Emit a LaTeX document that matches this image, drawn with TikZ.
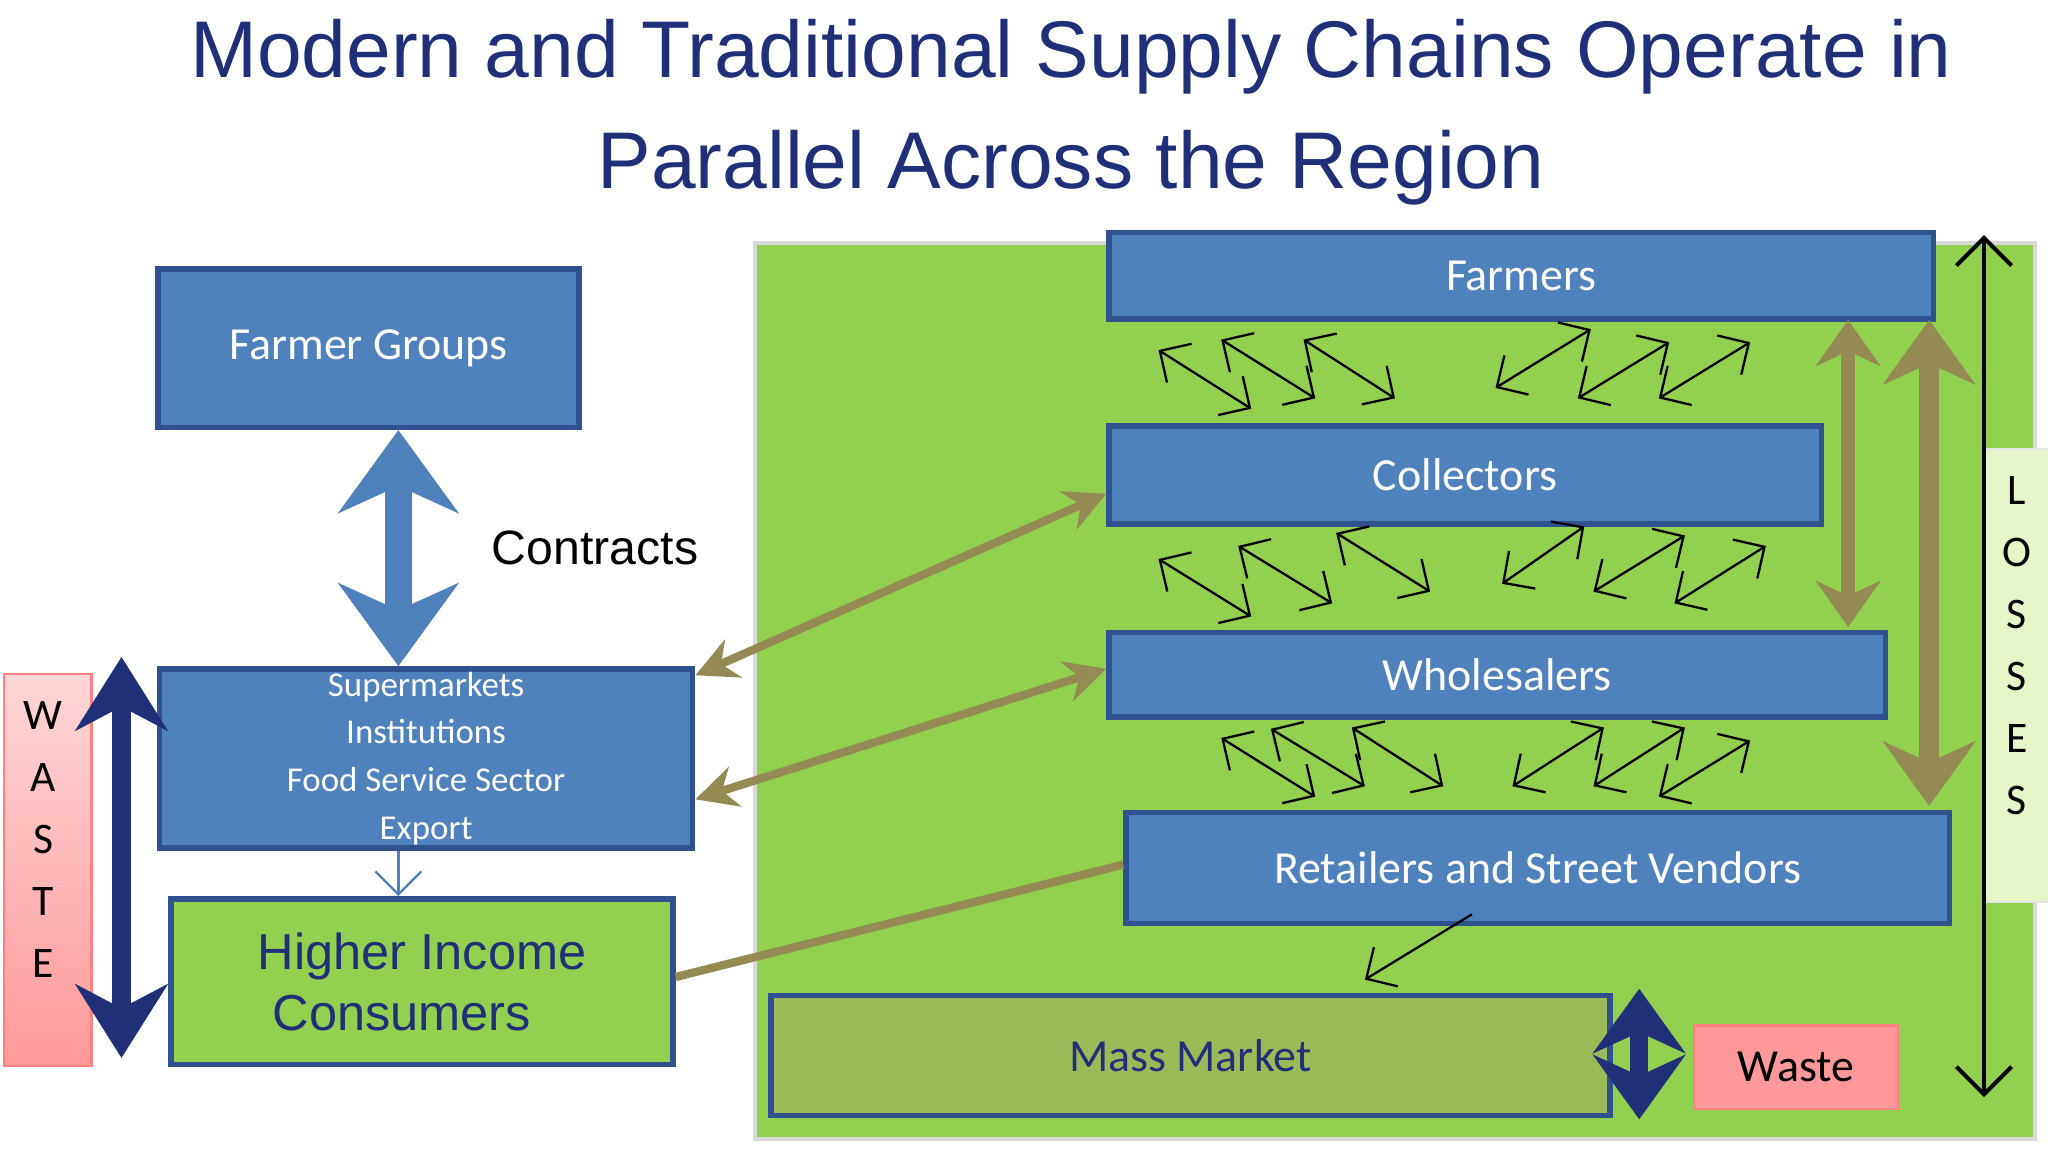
\documentclass[tikz,border=0pt]{standalone}
\usepackage{fontspec}
\setmainfont{Carlito}
\newfontfamily\arialf{Liberation Sans}
\usetikzlibrary{positioning,arrows.meta}
\definecolor{boxblue}{HTML}{4F81BD}
\definecolor{boxedge}{HTML}{2F528F}
\definecolor{fieldgreen}{HTML}{92D050}
\definecolor{olivebox}{HTML}{9BBB59}
\definecolor{navytext}{HTML}{1F2F78}
\definecolor{linkolive}{HTML}{948A54}
\definecolor{wastepink}{HTML}{FF9999}
\definecolor{lossgreen}{HTML}{E6F5C8}
\begin{document}
\begin{tikzpicture}[x=0.01cm, y=-0.01cm,
    chain/.style={draw=boxedge, line width=1.2pt, fill=boxblue, text=white, inner sep=0pt, anchor=north west},
    link/.style={draw=linkolive, line width=1.8pt, {Stealth[length=9pt,width=9pt]}-{Stealth[length=9pt,width=9pt]}},
    flow/.style={draw=black, line width=0.5pt, {Straight Barb[length=5pt]}-{Straight Barb[length=5pt]}},
]
\useasboundingbox (0,0) rectangle (1568,882);
% title
\node[font=\arialf\fontsize{17.5}{21}\selectfont, text=navytext, align=center] (title) at (820,86)
  {Modern and Traditional Supply Chains Operate in\\[3pt]Parallel Across the Region};
% traditional chain area
\fill[fieldgreen, draw=black!15, line width=1pt] (578,186) rectangle (1558,872);
\node[fill=lossgreen, draw=black!10, minimum width=50\pgflinewidth, inner sep=0pt, anchor=north west,
  minimum width=0.49cm, minimum height=3.47cm] (losses) at (1519,343) {};
\node[font=\fontsize{9.5}{13.5}\selectfont, align=center] at (1544,494) {L\\O\\S\\S\\E\\S};
\coordinate (lossTop) at (1519,180);
\coordinate (lossBot) at (1519,840);
\draw[line width=0.9pt, {Straight Barb[length=6pt]}-{Straight Barb[length=6pt]}] (lossTop) -- (lossBot);

\node[chain, minimum width=6.31cm, minimum height=0.66cm, font=\fontsize{10}{12}\selectfont] (farmers) at (847,176) {Farmers};
\node[chain, minimum width=5.45cm, minimum height=0.75cm, font=\fontsize{10}{12}\selectfont] (collectors) at (847,324) {Collectors};
\node[chain, minimum width=5.94cm, minimum height=0.65cm, font=\fontsize{10}{12}\selectfont] (wholesalers) at (847,482) {Wholesalers};
\node[chain, minimum width=6.30cm, minimum height=0.85cm, font=\fontsize{10}{12}\selectfont] (retailers) at (860,620) {Retailers and Street Vendors};
\node[chain, fill=olivebox, text=navytext, minimum width=6.42cm, minimum height=0.92cm, font=\fontsize{10}{12}\selectfont] (mass) at (588,760) {Mass Market};
\node[chain, fill=wastepink, draw=red!50, line width=0.6pt, text=black, minimum width=1.56cm, minimum height=0.64cm, font=\fontsize{10}{12}\selectfont] (waste) at (1296,784) {Waste};

% modern chain
\node[chain, minimum width=3.22cm, minimum height=1.21cm, font=\fontsize{10}{12}\selectfont] (groups) at (119,204) {Farmer Groups};
\node[chain, minimum width=4.08cm, minimum height=1.37cm, font=\fontsize{7.6}{10.4}\selectfont, align=center] (super) at (120,510)
  {Supermarkets\\Institutions\\Food Service Sector\\Export};
\node[chain, fill=fieldgreen, text=navytext, minimum width=3.84cm, minimum height=1.27cm, font=\arialf\fontsize{11}{13.4}\selectfont, align=center] (higher) at (129,686)
  {Higher Income\\\hspace*{1.2em}Consumers\hspace*{2em}};
\node[chain, draw=red!50, line width=0.6pt, top color=wastepink!40, bottom color=wastepink, text=black, minimum width=0.67cm, minimum height=3.0cm] (wastebar) at (2,515) {};
\node[font=\fontsize{9.5}{13.5}\selectfont, align=center] at (33,643) {W\\A\\S\\T\\E};

% vertical arrows
\draw[navytext, line width=4pt, {Stealth[length=16pt,width=20pt]}-{Stealth[length=16pt,width=20pt]}] (93,503) -- (93,810);
\draw[boxblue, line width=6pt, {Stealth[length=18pt,width=26pt]}-{Stealth[length=18pt,width=26pt]}] (groups.south -| 305,0) -- (super.north -| 305,0)
  node[midway, right=14pt, text=black, font=\arialf\fontsize{10.5}{12}\selectfont] {Contracts};
\draw[boxblue, line width=0.5pt, -{Straight Barb[length=5pt]}] (super.south -| 305,0) -- (higher.north -| 305,0);
\draw[navytext, line width=4pt, {Stealth[length=14pt,width=20pt]}-{Stealth[length=14pt,width=20pt]}] (1255,757) -- (1255,857);
\draw[linkolive, line width=3pt, {Stealth[length=10pt,width=14pt]}-{Stealth[length=10pt,width=14pt]}] (1415,245) -- (1415,480);
\draw[linkolive, line width=4.5pt, {Stealth[length=14pt,width=20pt]}-{Stealth[length=14pt,width=20pt]}] (1477,245) -- (1477,617);

% links between chains
\draw[link] (collectors.west |- 0,378) -- (super.east |- 0,517);
\draw[link] (wholesalers.west |- 0,512) -- (super.east |- 0,612);
\draw[link, {-}] (retailers.west |- 0,662) -- (higher.east |- 0,748);

% small trade arrows
\foreach \ax/\ay/\bx/\by in {887/268/958/313, 935/260/1007/305, 998/260/1068/305, 1218/252/1145/297, 1278/262/1208/305, 1340/262/1270/305,
  887/428/958/472, 948/418/1020/462, 1023/408/1095/453, 1213/403/1150/447, 1290/410/1220/453, 1352/418/1282/462,
  935/565/1007/610, 973/558/1045/602, 1035/557/1105/602, 1228/557/1158/602, 1290/557/1220/602, 1340/567/1270/610} {
  \draw[flow] (\ax,\ay) -- (\bx,\by);
}
\coordinate (retFoot) at (1127,700);
\coordinate (massHead) at (1045,750);
\draw[line width=0.5pt, -{Straight Barb[length=5pt]}] (retFoot) -- (massHead);
\end{tikzpicture}
\end{document}
